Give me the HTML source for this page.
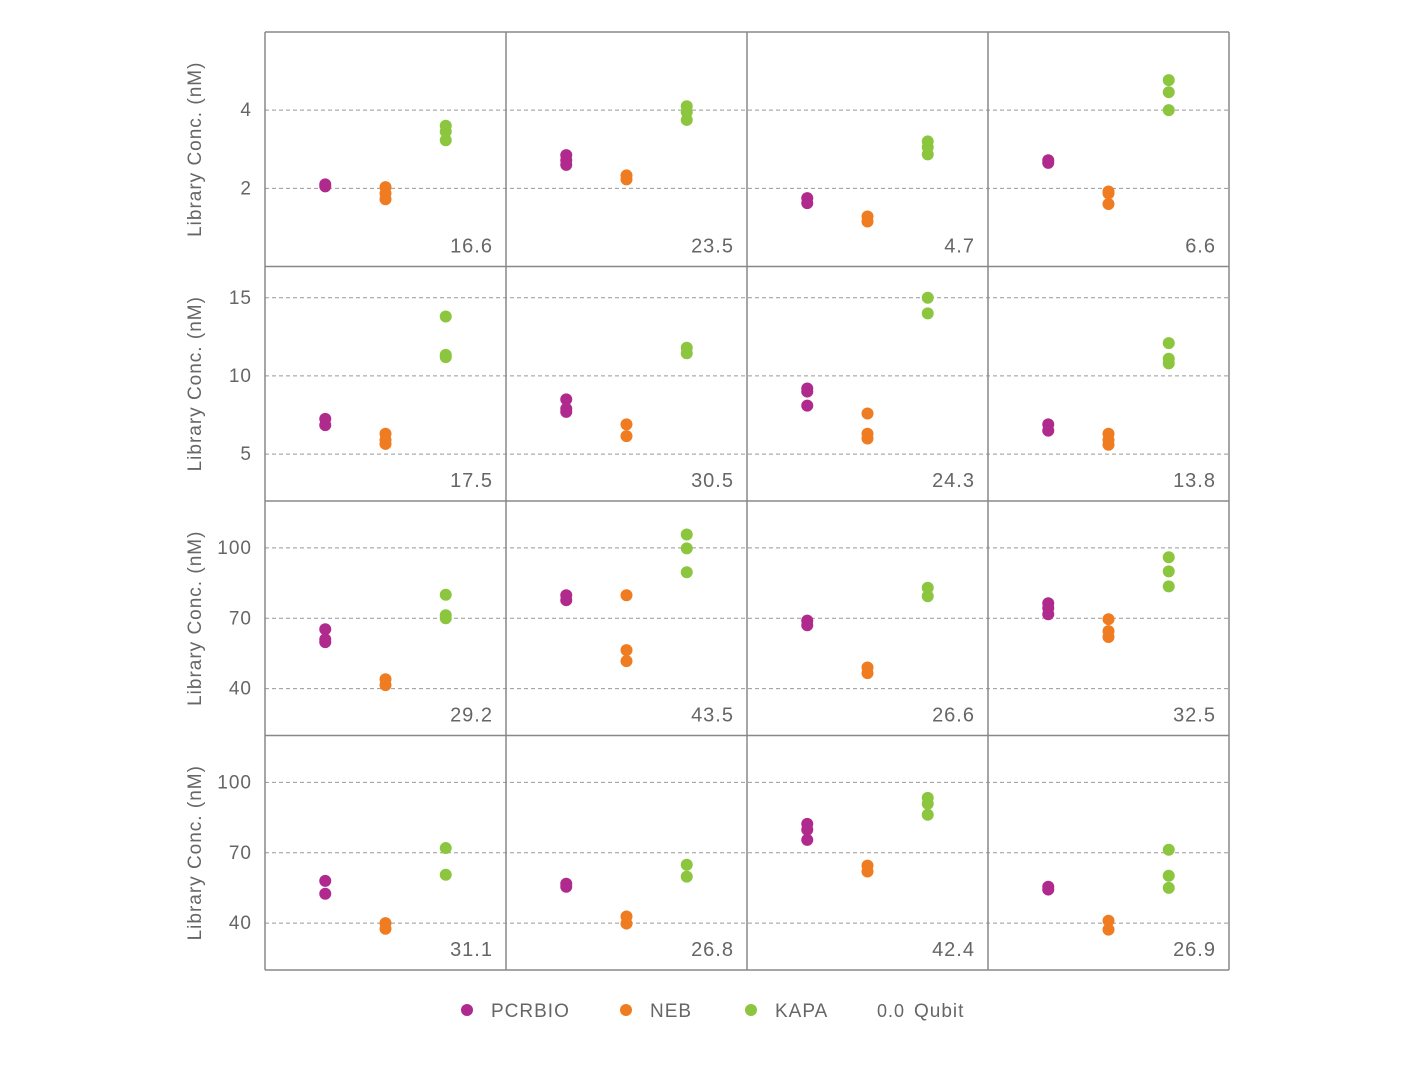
<!DOCTYPE html>
<html><head><meta charset="utf-8"><style>
body{margin:0;background:#fff;}
svg text{font-family:"Liberation Sans",sans-serif;fill:#666;letter-spacing:1px;}
</style></head><body>
<svg id="chart" width="1414" height="1061" xmlns="http://www.w3.org/2000/svg"></svg>
<script>
const series = ["PCRBIO","NEB","KAPA"];
const colors = ["#b02a8e","#f07c22","#8cc63f"];
const qubit = [["16.6","23.5","4.7","6.6"],["17.5","30.5","24.3","13.8"],["29.2","43.5","26.6","32.5"],["31.1","26.8","42.4","26.9"]];
const rowDomains = [[0,6],[2,17],[20,120],[20,120]];
const rowTicks = [[2,4],[5,10,15],[40,70,100],[40,70,100]];
const row1 = [
 [[2.1,2.05],[2.03,1.87,1.72],[3.6,3.45,3.23]],
 [[2.85,2.72,2.6],[2.33,2.23],[4.1,3.95,3.75]],
 [[1.75,1.62],[1.28,1.15],[3.2,3.05,2.87]],
 [[2.72,2.65],[1.92,1.87,1.6],[4.77,4.46,4.0]]];
const row2 = [
 [[7.25,6.85],[6.3,5.9,5.65],[13.8,11.35,11.2]],
 [[8.5,7.9,7.7],[6.9,6.15],[11.8,11.45]],
 [[9.2,9.0,8.1],[7.6,6.3,6.0],[15,14]],
 [[6.9,6.5],[6.3,5.9,5.6],[12.1,11.1,10.8]]];
const row3 = [
 [[65.3,61,59.8],[44,41.5],[80,71.3,70]],
 [[79.8,77.7],[79.8,56.4,51.7],[105.7,99.8,89.6]],
 [[69,67],[49,46.6],[83,79.4]],
 [[76.4,74.3,71.7],[69.6,64.5,62],[96,90,83.6]]];
const row4 = [
 [[58,52.5],[40,37.6],[72,60.6]],
 [[56.8,55.5],[42.8,39.8],[64.9,59.8]],
 [[82.3,79.8,75.5],[64.5,62],[93.4,90.9,86.2]],
 [[55.5,54.3],[41,37.2],[71.3,60.2,55]]];
const values = [row1,row2,row3,row4];

const svg = document.getElementById('chart');
const NS = "http://www.w3.org/2000/svg";
const X0=265, X1=1229, Y0=32, Y1=970;
const pw=(X1-X0)/4, ph=(Y1-Y0)/4;
function mk(tag, attrs){const e=document.createElementNS(NS,tag);for(const k in attrs)e.setAttribute(k,attrs[k]);svg.appendChild(e);return e;}
function xScale(c,i){return X0+c*pw+pw*(i+1)/4;}
function yScale(r,v){const d=rowDomains[r];const top=Y0+r*ph;return top+ph-(v-d[0])/(d[1]-d[0])*ph;}

for(let r=0;r<4;r++){
  rowTicks[r].forEach(t=>{
    const y=yScale(r,t);
    const l=mk('line',{x1:X0,x2:X1,y1:y,y2:y,stroke:'#999','stroke-dasharray':'4,3','stroke-width':1});
    
    
    const tx=mk('text',{x:252,y:y+6,'text-anchor':'end','font-size':19});
    tx.textContent=t;
    
    
  });
  const cy=Y0+r*ph+ph/2;
  const yt=mk('text',{x:0,y:0,'text-anchor':'middle','font-size':19,transform:`translate(201,${cy}) rotate(-90)`});
  yt.textContent='Library Conc. (nM)';
  
  
  for(let c=0;c<4;c++){
    for(let s=0;s<3;s++){
      values[r][c][s].forEach(v=>{
        const p=mk('circle',{cx:xScale(c,s),cy:yScale(r,v),r:6,fill:colors[s]});
        
        
      });
    }
    const q=mk('text',{x:X0+(c+1)*pw-13,y:Y0+(r+1)*ph-14,'text-anchor':'end','font-size':20});
    q.textContent=qubit[r][c];
    
    
  }
}
for(let i=0;i<=4;i++){
  const x=X0+i*pw, y=Y0+i*ph;
  const v=mk('line',{x1:x,x2:x,y1:Y0,y2:Y1,stroke:'#888','stroke-width':1.5});
  
  
  const h=mk('line',{x1:X0,x2:X1,y1:y,y2:y,stroke:'#888','stroke-width':1.5});
  
  
}
const lx=[467,626,751];
series.forEach((s,i)=>{
  const c=mk('circle',{cx:lx[i],cy:1010,r:6,fill:colors[i]});
  
  
  const t=mk('text',{x:lx[i]+24,y:1017,'font-size':19});
  t.textContent=s;
  
  
});
const q0=mk('text',{x:877,y:1017,'font-size':18});
q0.textContent='0.0';


const q1=mk('text',{x:914,y:1017,'font-size':19});
q1.textContent='Qubit';


</script>
</body></html>
